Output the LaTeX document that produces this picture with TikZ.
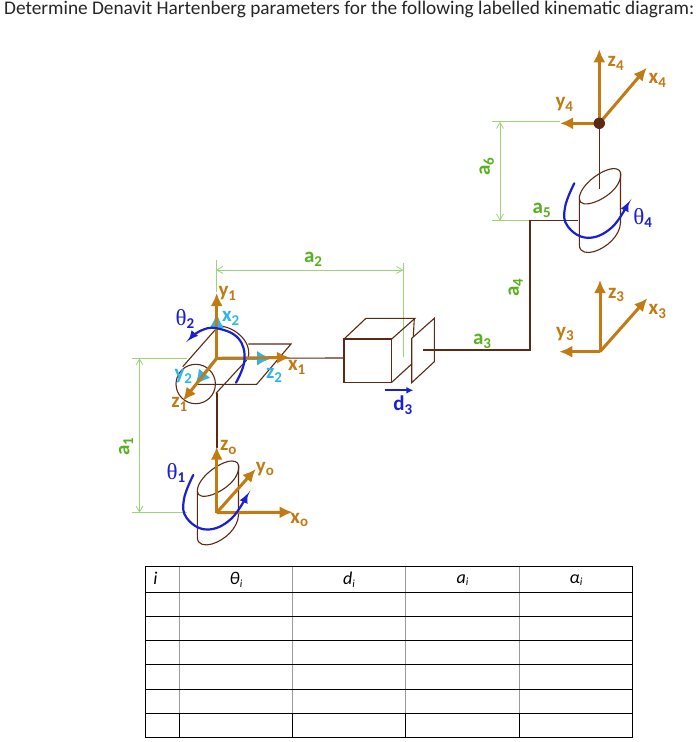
\documentclass[tikz,border=0pt]{standalone}
\usepackage{fontspec}
\setmainfont{Carlito}
\newfontfamily\thetafont{Liberation Serif}
\usetikzlibrary{arrows.meta}
\definecolor{brn}{HTML}{5C2A14}
\definecolor{org}{HTML}{C27A12}
\definecolor{cyn}{HTML}{2DB6EA}
\definecolor{blu}{HTML}{1A1FD0}
\definecolor{grn}{HTML}{58B01E}
\definecolor{dimg}{HTML}{9CD37A}
\definecolor{gry}{HTML}{9A9A9A}
\newcommand{\lab}[2]{\fontsize{21}{21}\selectfont\bfseries #1\raisebox{-0.38ex}{\fontsize{15}{15}\selectfont #2}}
\newcommand{\thlab}[1]{\fontsize{23}{23}\selectfont{\thetafont θ}\raisebox{-0.3ex}{\fontsize{15}{15}\selectfont\bfseries #1}}
\newcommand{\hd}[2]{\fontsize{18}{18}\selectfont\itshape #1\raisebox{-0.3ex}{\fontsize{11}{11}\selectfont #2}}
\tikzset{
 link/.style={draw=brn,line width=1.1pt},
 thin link/.style={draw=brn,line width=1.1pt},
 axis/.style={draw=org,line width=3pt,-{Latex[length=13pt,width=12pt]}},
 caxis/.style={draw=cyn,line width=3pt,-{Latex[length=15pt,width=15pt]}},
 turn/.style={draw=blu,line width=2.2pt,line cap=round,-{Latex[length=10pt,width=9pt]}},
 dimline/.style={draw=dimg,line width=0.8pt},
 dimarrow/.style={draw=dimg,line width=0.8pt,{Straight Barb[length=6pt,width=7pt]}-{Straight Barb[length=6pt,width=7pt]}},
 orl/.style={text=org,inner sep=0pt},
 cyl/.style={text=cyn,inner sep=0pt},
 grl/.style={text=grn,inner sep=0pt},
 bll/.style={text=blu,inner sep=0pt},
 tabdark/.style={draw=black,line width=0.9pt},
 tabgrey/.style={draw=gry,line width=1.1pt},
}
\begin{document}
\begin{tikzpicture}[x=1pt,y=-1pt]
\useasboundingbox[fill=white] (0,0) rectangle (696,742);
\node[anchor=west,inner sep=0pt,text=black!85] (title) at (4,9.5) {\fontsize{19.3}{19}\selectfont Determine Denavit Hartenberg parameters for the following labelled kinematic diagram:};

% named points
\coordinate (O0) at (216.7,512.7);
\coordinate (O1) at (216.7,358.3);
\coordinate (O3) at (600,351.7);
\coordinate (O4) at (599.3,123.3);
\coordinate (J1) at (423,350);
\coordinate (C3) at (530,350);
\coordinate (C4) at (530,220.7);
\coordinate (C5) at (578,220.7);
\coordinate (W4) at (599.3,189.3);
\coordinate (B0) at (217,393);
\coordinate (BoxL) at (344,358);

% dimension lines
\draw[dimline] (216,260) -- (216,292);
\draw[dimline] (403.3,263) -- (403.3,356.7);
\draw[dimarrow] (216,270) -- (403.3,270);
\draw[dimline] (132,358.3) -- (187,358.3);
\draw[dimline] (132,512.7) -- (187,512.7);
\draw[dimarrow] (139.5,358.3) -- (139.5,512.7);
\draw[dimline] (492,121.7) -- (560,121.7);
\draw[dimline] (492,220.7) -- (530,220.7);
\draw[dimarrow] (500,121.7) -- (500,220.7);

% links
\draw[link] (B0) -- (217,448);
\draw[link] (O1) -- (BoxL);
\draw[link] (J1) -- (C3) -- (C4) -- (C5);
\draw[link] (O4) -- (W4);

% prismatic joint
\draw[link] (344,339) rectangle (391.7,382.3);
\draw[link] (344,339) -- (366,318.3) -- (415,318.3) -- (391.7,339);
\draw[link] (414.3,318.3) -- (413.3,337);
\draw[link] (391.7,382.3) -- (411.7,364);
\draw[link] (411.7,338.3) -- (434.3,318.3) -- (434.3,361.7) -- (411.7,382.7) -- cycle;

% shoulder joint
\draw[thin link] (248.3,344) -- (291,344) -- (256.7,384.3) -- (195,384.3);
\draw[thin link] (182.7,366.7) -- (215,330);
\draw[thin link] (216,393.3) -- (246.7,360);
\draw[thin link] (216.7,326) .. controls (232,325) and (252,340) .. (248.3,357);
\draw[thin link] (195.7,384) circle (19.7);

% lower and wrist cylinders
\foreach \dx/\dy in {0/0,382/-292.4}{
 \begin{scope}[shift={(\dx,\dy)}]
  \draw[thin link] (197.3,491) .. controls (197.3,478) and (220,461) .. (232,461)
     .. controls (242,461) and (239,472) .. (235,478) .. controls (225,493) and (197.3,503) .. (197.3,491);
  \draw[thin link] (197.3,491) -- (197.3,538) .. controls (198,545) and (205,546) .. (212,544)
     .. controls (225,540) and (238,528) .. (238.5,515) -- (238.5,465);
 \end{scope}
}

% axes
\draw[caxis] (O1) -- (216.7,313);
\draw[caxis] (O1) -- (272,358.3);
\draw[caxis] (O1) -- (195,385);
\draw[axis] (O1) -- (216.7,293);
\draw[axis] (O1) -- (290,357.5);
\draw[axis] (O1) -- (183,400.7);
\draw[axis] (O0) -- (216.7,446.7);
\draw[axis] (O0) -- (255.7,469);
\draw[axis] (O0) -- (292.7,512.2);
\draw[axis] (O3) -- (600,280);
\draw[axis] (O3) -- (647.3,298.3);
\draw[axis] (O3) -- (559.3,351.7);
\draw[axis] (O4) -- (599.3,49.3);
\draw[axis] (O4) -- (646.7,67.7);
\draw[axis] (O4) -- (560,123.3);
\fill[brn] (O4) circle (5.7);

% rotation arrows
\foreach \dx/\dy in {0/0,381/-291.7}{
 \draw[turn,shift={(\dx,\dy)}] plot[smooth,tension=0.7] coordinates {(193.3,475) (184,499) (186.7,518) (206.7,529.5) (231,519) (248,493)};
}
\draw[turn] plot[smooth,tension=0.7] coordinates {(236,382.7) (244.5,360) (238.3,338.3) (216.7,328.3) (200,331) (188.3,340.7)};
\draw[draw=blu,line width=1.8pt,-{Latex[length=7pt,width=7pt]}] (385,390.3) -- (413.3,390.3);

% labels
\node[grl] (a1) at (126,446.7) [rotate=90] {\lab{a}{1}};
\node[grl] (a2) at (313,259) {\lab{a}{2}};
\node[grl] (a3) at (482,341) {\lab{a}{3}};
\node[grl,rotate=90] (a4) at (515.7,288) {\lab{a}{4}};
\node[grl] (a5) at (541.7,210) {\lab{a}{5}};
\node[grl,rotate=90] (a6) at (486.7,166.7) {\lab{a}{6}};
\node[bll] (d3) at (402.7,405) {\lab{d}{3}};
\node[bll] (t1) at (176,473) {\thlab{1}};
\node[bll] (t2) at (185,319) {\thlab{2}};
\node[bll] (t4) at (642.7,218) {\thlab{4}};
\node[orl] (z0) at (228.3,447.3) {\lab{z}{o}};
\node[orl] (y0) at (265,469) {\lab{y}{o}};
\node[orl] (x0) at (299.3,520) {\lab{x}{o}};
\node[orl] (y1) at (227.3,293) {\lab{y}{1}};
\node[orl] (x1) at (296.7,367) {\lab{x}{1}};
\node[orl] (z1) at (179.3,404) {\lab{z}{1}};
\node[cyl] (x2) at (230.7,318) {\lab{x}{2}};
\node[cyl] (y2) at (183.3,376.7) {\lab{y}{2}};
\node[cyl] (z2) at (274,375) {\lab{z}{2}};
\node[orl] (z3) at (616,295) {\lab{z}{3}};
\node[orl] (x3) at (657.3,311.7) {\lab{x}{3}};
\node[orl] (y3) at (565,334) {\lab{y}{3}};
\node[orl] (z4) at (615.7,63.3) {\lab{z}{4}};
\node[orl] (x4) at (657.3,80) {\lab{x}{4}};
\node[orl] (y4) at (564.3,104) {\lab{y}{4}};

% table
\foreach \x in {179.3,292.3,405.7,519.3}{
 \draw[tabgrey] (\x,566.7) -- (\x,713.3);
 \draw[tabdark] (\x,713.3) -- (\x,737);
}
\foreach \y in {592.3,616.3,640.3,664.3,689.3,713.3}{
 \draw[tabdark] (145.7,\y) -- (632.3,\y);
}
\draw[tabdark] (145.7,566.7) rectangle (632.3,737);
\node[inner sep=0pt] (hi) at (155.5,579.5) {\hd{i}{}};
\node[inner sep=0pt] (hth) at (236,580) {\hd{θ}{i}};
\node[inner sep=0pt] (hd) at (349,580) {\hd{d}{i}};
\node[inner sep=0pt] (ha) at (462.5,580) {\hd{a}{i}};
\node[inner sep=0pt] (hal) at (576,580) {\hd{α}{i}};
\end{tikzpicture}
\end{document}
